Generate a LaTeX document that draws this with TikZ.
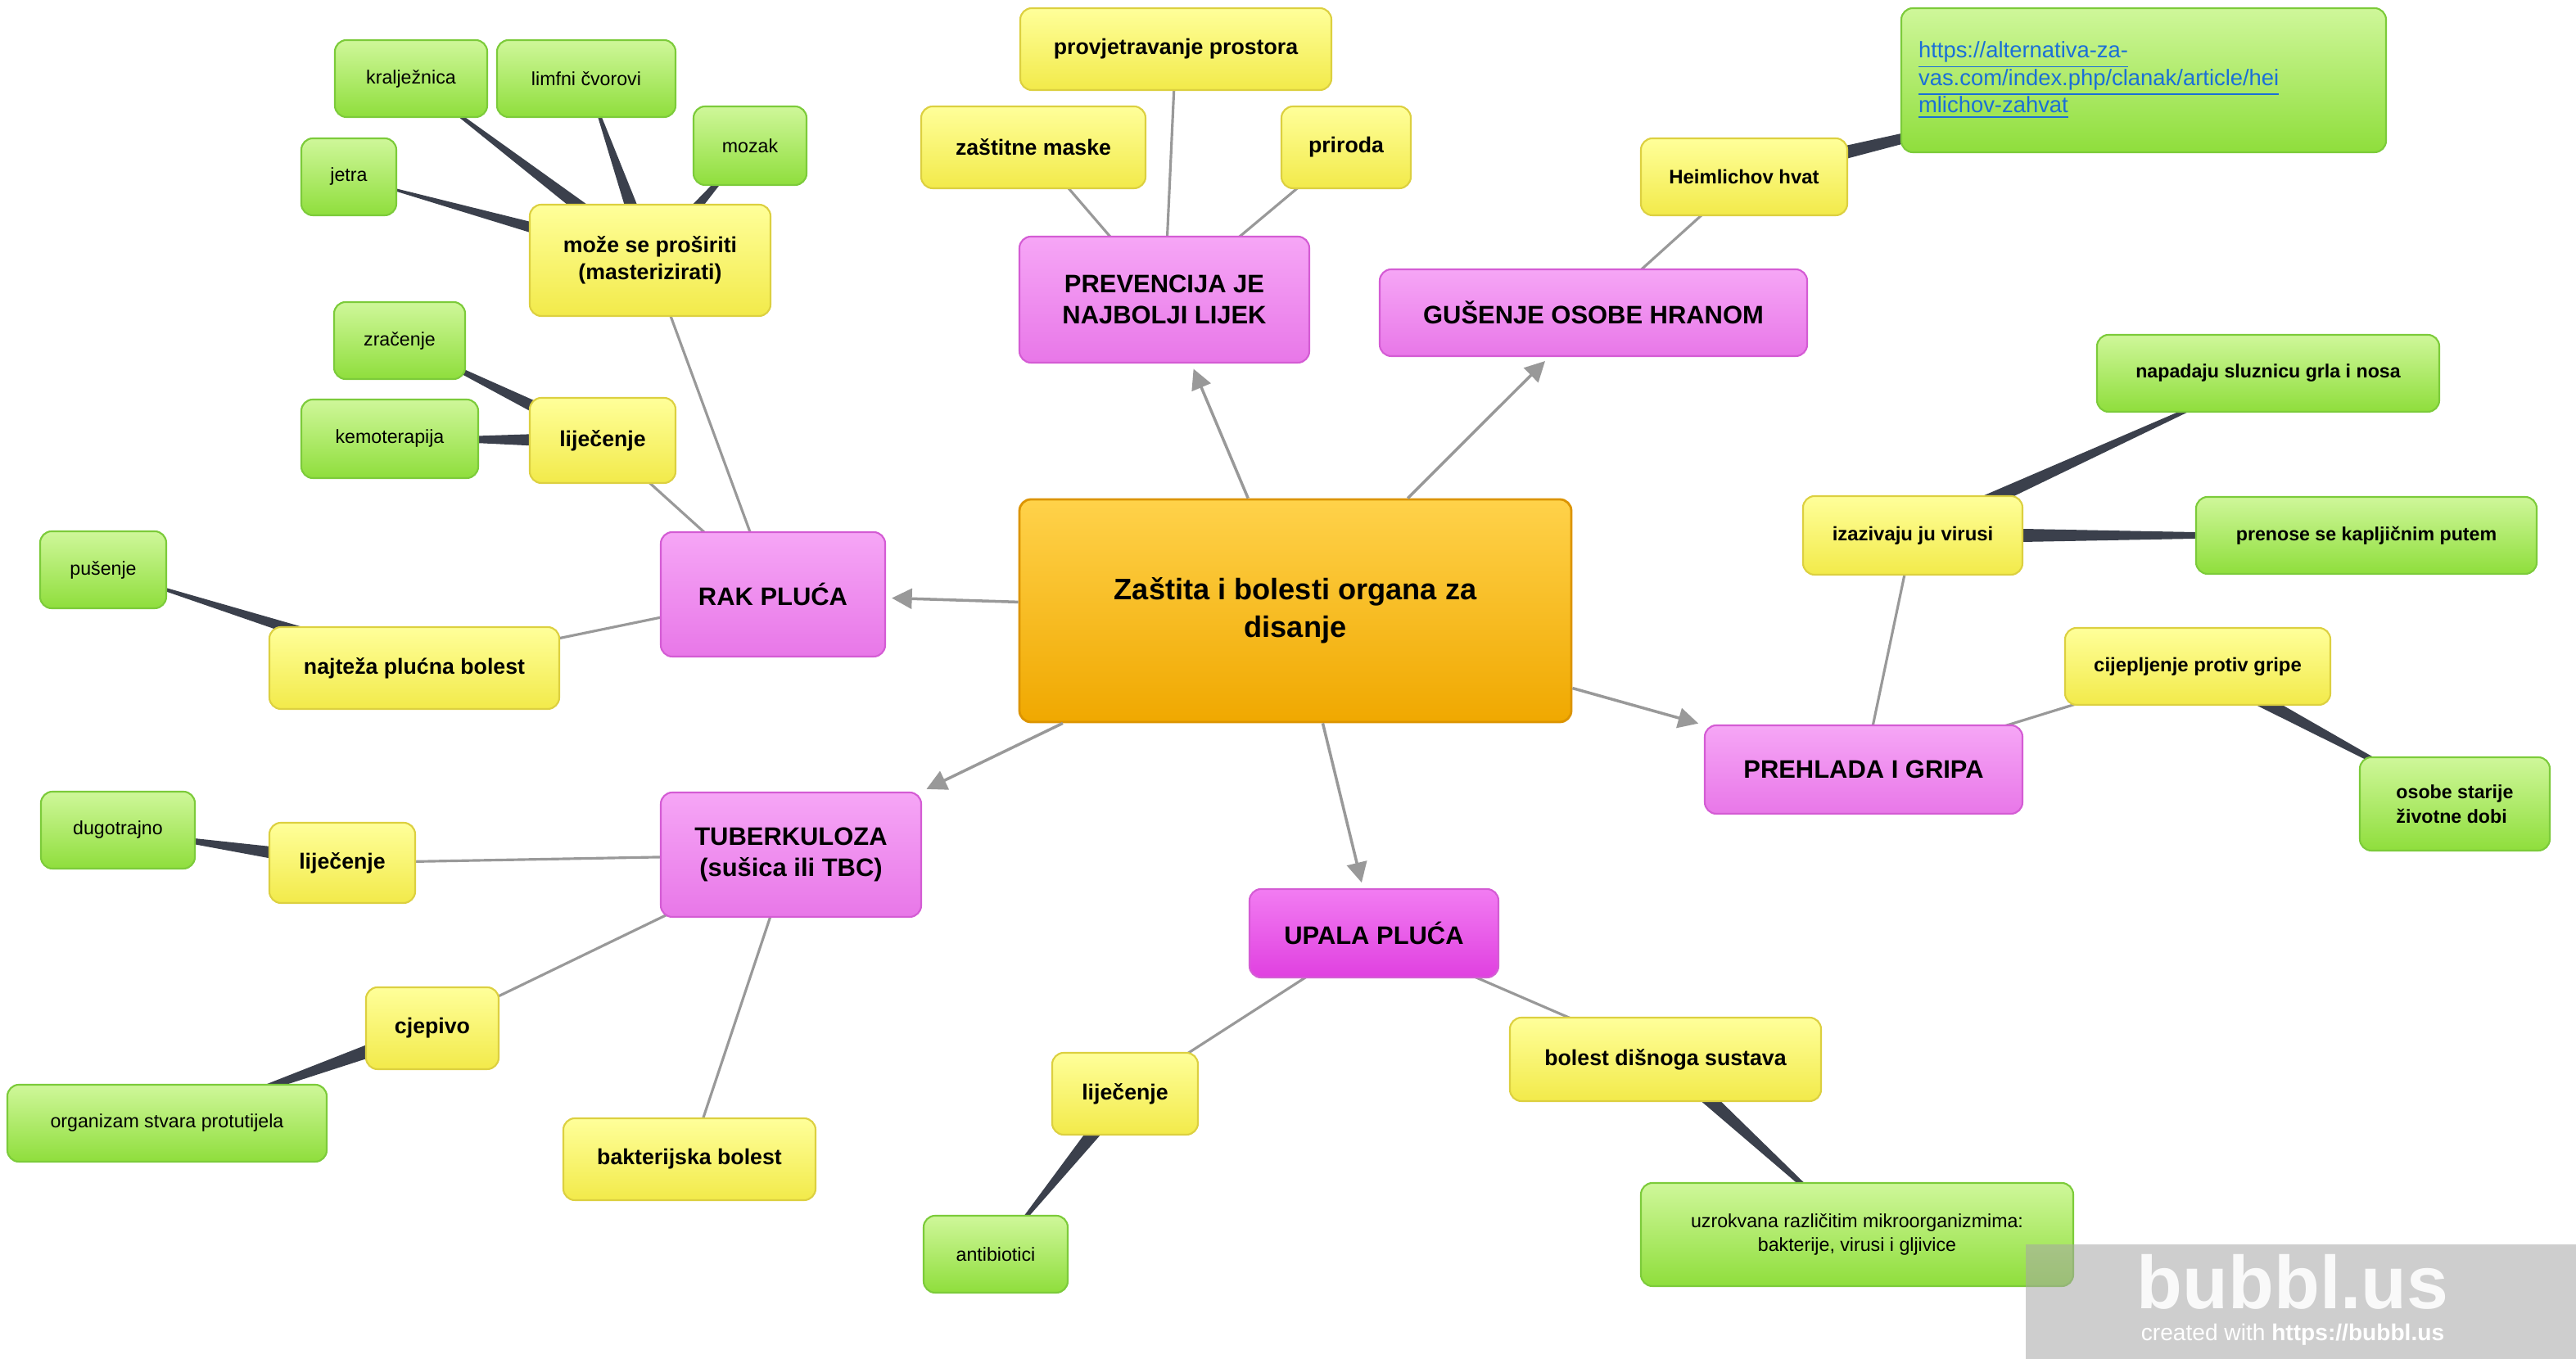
\documentclass[tikz,border=0pt]{standalone}
\usepackage{fontspec}
\setmainfont{Liberation Sans}
\usetikzlibrary{positioning}
\usetikzlibrary{calc}
\usetikzlibrary{arrows.meta}
\pgfdeclarelayer{bg}
\pgfsetlayers{bg,main}
\definecolor{pinkT}{HTML}{F6A6F6}
\definecolor{pinkB}{HTML}{E877E8}
\definecolor{pinkD}{HTML}{D45CD4}
\definecolor{magT}{HTML}{F27CF2}
\definecolor{magB}{HTML}{E040E0}
\definecolor{yelT}{HTML}{FFFF9A}
\definecolor{yelB}{HTML}{F2EA4A}
\definecolor{yelD}{HTML}{DCD040}
\definecolor{grnT}{HTML}{CFF79A}
\definecolor{grnB}{HTML}{8FDE3C}
\definecolor{grnD}{HTML}{7CCB3A}
\definecolor{orgT}{HTML}{FFD24A}
\definecolor{orgB}{HTML}{F0A800}
\definecolor{orgD}{HTML}{DC9400}
\definecolor{wedge}{HTML}{3B404C}
\definecolor{linkc}{HTML}{1A6FD8}
\newcommand{\wedgeline}[2]{%
  \fill[wedge] (#2) -- ($(#1)!3pt!90:(#2)$) -- ($(#1)!3pt!-90:(#2)$) -- cycle;}
\begin{document}
\begin{tikzpicture}[x=0.02cm,y=-0.02cm,
        box/.style 2 args={rectangle, rounded corners=4pt, align=center,
            minimum width=#1*0.02cm, minimum height=#2*0.02cm, inner sep=2pt},
        ROOT/.style 2 args={box={#1}{#2}, draw=orgD, top color=orgT, bottom color=orgB,
            font=\fontsize{10.3}{13}\selectfont\bfseries, line width=0.8pt},
        MAIN/.style 2 args={box={#1}{#2}, draw=pinkD, top color=pinkT, bottom color=pinkB,
            font=\fontsize{8.8}{11}\selectfont\bfseries, line width=0.6pt},
        SUB/.style 2 args={box={#1}{#2}, draw=yelD, top color=yelT, bottom color=yelB,
            font=\fontsize{7.6}{9.5}\selectfont\bfseries, line width=0.6pt},
        LEAF/.style 2 args={box={#1}{#2}, draw=grnD, top color=grnT, bottom color=grnB,
            font=\fontsize{6.6}{8.5}\selectfont, line width=0.6pt},
        LEAFB/.style 2 args={LEAF={#1}{#2}, font=\fontsize{6.6}{8.5}\selectfont\bfseries},
        arr/.style={draw=black!40, line width=1pt, -{Triangle[length=7pt,width=7pt]}, shorten >=2pt},
        ln/.style={draw=black!40, line width=0.9pt},
        ]
            \useasboundingbox (0,0) rectangle (1573,830);
            % root and main topics
            \node[ROOT={337}{136}] (root) at (791,373) {Zaštita i bolesti organa za\\disanje};
            \node[MAIN={177}{77}] (prev) at (711,183) {PREVENCIJA JE\\NAJBOLJI LIJEK};
            \node[MAIN={261}{53}] (gus) at (973,191) {GUŠENJE OSOBE HRANOM};
            \node[MAIN={137}{76}] (rak) at (472,363) {RAK PLUĆA};
            \node[MAIN={194}{54}] (preh) at (1138,470) {PREHLADA I GRIPA};
            \node[MAIN={159}{76}] (tbc) at (483,522) {TUBERKULOZA\\(sušica ili TBC)};
            \node[MAIN={152}{54}, top color=magT, bottom color=magB] (upala) at (839,570) {UPALA PLUĆA};
            % second level
            \node[SUB={190}{50}] (prov) at (718,30) {provjetravanje prostora};
            \node[SUB={137}{50}] (maske) at (631,90) {zaštitne maske};
            \node[SUB={79}{50}] (prir) at (822,90) {priroda};
            \node[SUB={126}{47}, font=\fontsize{6.8}{8.5}\selectfont\bfseries] (heim) at (1065,108) {Heimlichov hvat};
            \node[SUB={147}{68}] (mase) at (397,159) {može se proširiti\\(masterizirati)};
            \node[SUB={89}{52}] (lijR) at (368,269) {liječenje};
            \node[SUB={177}{50}] (najt) at (253,408) {najteža plućna bolest};
            \node[SUB={134}{48}, font=\fontsize{6.8}{8.5}\selectfont\bfseries] (viru) at (1168,327) {izazivaju ju virusi};
            \node[SUB={162}{47}, font=\fontsize{6.8}{8.5}\selectfont\bfseries] (cijep) at (1342,407) {cijepljenje protiv gripe};
            \node[SUB={89}{49}] (lijT) at (209,527) {liječenje};
            \node[SUB={81}{50}] (cjep) at (264,628) {cjepivo};
            \node[SUB={154}{50}] (bakt) at (421,708) {bakterijska bolest};
            \node[SUB={89}{50}] (lijU) at (687,668) {liječenje};
            \node[SUB={190}{51}] (disn) at (1017,647) {bolest dišnoga sustava};
            % leaves
            \node[LEAF={296}{88}, text width=5.5cm, align=left, text=linkc, font=\fontsize{7.8}{9.5}\selectfont] (link) at (1309,49)
                {\underline{https://alternativa-za-}\\\underline{vas.com/index.php/clanak/article/hei}\\\underline{mlichov-zahvat}};
            \node[LEAF={93}{47}] (kral) at (251,48) {kralježnica};
            \node[LEAF={109}{47}] (limf) at (358,48) {limfni čvorovi};
            \node[LEAF={69}{48}] (moz) at (458,89) {mozak};
            \node[LEAF={58}{47}] (jetra) at (213,108) {jetra};
            \node[LEAF={80}{47}] (zrac) at (244,208) {zračenje};
            \node[LEAF={108}{48}] (kemo) at (238,268) {kemoterapija};
            \node[LEAF={77}{47}] (pus) at (63,348) {pušenje};
            \node[LEAFB={209}{47}] (napa) at (1385,228) {napadaju sluznicu grla i nosa};
            \node[LEAFB={208}{47}] (kapl) at (1445,327) {prenose se kapljičnim putem};
            \node[LEAFB={116}{57}, align=left] (osob) at (1499,491) {osobe starije\\životne dobi};
            \node[LEAF={94}{47}] (dugo) at (72,507) {dugotrajno};
            \node[LEAF={195}{47}] (orga) at (102,686) {organizam stvara protutijela};
            \node[LEAF={88}{47}] (anti) at (608,766) {antibiotici};
            \node[LEAF={264}{63}] (uzro) at (1134,754) {uzrokvana različitim mikroorganizmima:\\bakterije, virusi i gljivice};
            % connectors
            \draw[arr] (root) -- (prev);
            \draw[arr] (root) -- (gus);
            \draw[arr] (root) -- (rak);
            \draw[arr] (root) -- (preh);
            \draw[arr] (root) -- (tbc);
            \draw[arr] (root) -- (upala);
            \begin{pgfonlayer}{bg}
            \draw[ln] (prev.center) -- (prov.center);
            \draw[ln] (prev.center) -- (maske.center);
            \draw[ln] (prev.center) -- (prir.center);
            \draw[ln] (gus.center) -- (heim.center);
            \draw[ln] (rak.center) -- (mase.center);
            \draw[ln] (rak.center) -- (lijR.center);
            \draw[ln] (rak.center) -- (najt.center);
            \draw[ln] (preh.center) -- (viru.center);
            \draw[ln] (preh.center) -- (cijep.center);
            \draw[ln] (tbc.center) -- (lijT.center);
            \draw[ln] (tbc.center) -- (cjep.center);
            \draw[ln] (tbc.center) -- (bakt.center);
            \draw[ln] (upala.center) -- (lijU.center);
            \draw[ln] (upala.center) -- (disn.center);
            \wedgeline{heim.center}{link.center}
            \wedgeline{mase.center}{kral.center}
            \wedgeline{mase.center}{limf.center}
            \wedgeline{mase.center}{moz.center}
            \wedgeline{mase.center}{jetra.center}
            \wedgeline{lijR.center}{zrac.center}
            \wedgeline{lijR.center}{kemo.center}
            \wedgeline{najt.center}{pus.center}
            \wedgeline{viru.center}{napa.center}
            \wedgeline{viru.center}{kapl.center}
            \wedgeline{cijep.center}{osob.center}
            \wedgeline{lijT.center}{dugo.center}
            \wedgeline{cjep.center}{orga.center}
            \wedgeline{lijU.center}{anti.center}
            \wedgeline{disn.center}{uzro.center}
            \end{pgfonlayer}
            % watermark
            \fill[black!35, opacity=0.55] (1237,760) rectangle (1573,830);
            \node[text=white, opacity=0.9, font=\fontsize{26}{26}\selectfont\bfseries] (wm) at (1400,783) {bubbl.us};
            \node[text=white, font=\fontsize{8}{9}\selectfont, below=-2pt of wm] (wmsub) {created with \textbf{https://bubbl.us}};
        \end{tikzpicture}
\end{document}
